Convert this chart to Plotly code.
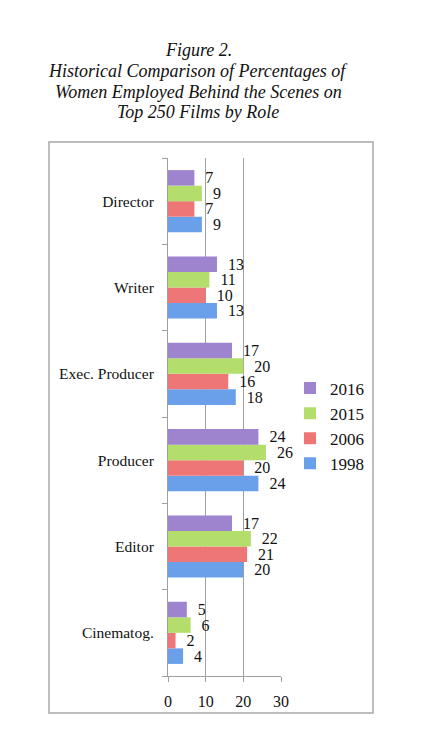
import plotly.graph_objects as go

roles = ["Director", "Writer", "Exec. Producer", "Producer", "Editor", "Cinematog."]
years = ["1998", "2006", "2015", "2016"]
pct_1998 = [9, 13, 18, 24, 20, 4]
pct_2006 = [7, 10, 16, 20, 21, 2]
pct_2015 = [9, 11, 20, 26, 22, 6]
pct_2016 = [7, 13, 17, 24, 17, 5]
x_ticks = [0, 10, 20, 30]

title_lines = [
    "Figure 2.",
    "Historical Comparison of Percentages of",
    "Women Employed Behind the Scenes on",
    "Top 250 Films by Role",
]

colors = {"1998": "#6aa0ea", "2006": "#ef7676", "2015": "#b4de6c", "2016": "#9e84cf"}
series = {"1998": pct_1998, "2006": pct_2006, "2015": pct_2015, "2016": pct_2016}

SERIF = "Liberation Serif, Times New Roman, serif"

# the page body has an 8px margin, so page pixel p sits at figure pixel p - 8
OFF = 8
W, H = 421 - OFF, 755 - OFF
L, R, T, B = 168 - OFF, 281 - OFF, 158 - OFF, 676 - OFF


def px_x(p):
    return (p - OFF - L) / (R - L)


def px_y(p):
    return (B - (p - OFF)) / (B - T)


fig = go.Figure()
for year in years:
    fig.add_bar(
        y=roles,
        x=series[year],
        orientation="h",
        name=year,
        marker=dict(color=colors[year], line=dict(width=0)),
        text=series[year],
        texttemplate="  %{x}",
        textposition="outside",
        constraintext="none",
        cliponaxis=False,
        textfont=dict(family=SERIF, size=16, color="#111"),
    )

# outer frame of the chart
fig.add_shape(
    type="rect", xref="paper", yref="paper",
    x0=px_x(49), x1=px_x(373), y0=px_y(713), y1=px_y(142),
    line=dict(color="#a8a8a8", width=1.5), fillcolor="rgba(0,0,0,0)", layer="below",
)

title_y = [50, 71, 92, 112]
for line, y in zip(title_lines, title_y):
    fig.add_annotation(
        text=line, xref="paper", yref="paper", x=px_x(198), y=px_y(y),
        xanchor="center", yanchor="middle", showarrow=False,
        font=dict(family=SERIF, size=18, color="#111", style="italic"),
    )

fig.update_layout(
    width=W, height=H,
    margin=dict(l=L, r=W - R, t=T, b=H - B),
    paper_bgcolor="white", plot_bgcolor="white",
    barmode="group", bargap=0.28, bargroupgap=0,
    showlegend=True,
    legend=dict(
        x=px_x(290), y=px_y(426), xanchor="left", yanchor="middle",
        traceorder="reversed", font=dict(family=SERIF, size=17, color="#111"),
        itemwidth=30, tracegroupgap=0, bgcolor="rgba(0,0,0,0)",
    ),
    xaxis=dict(
        range=[0, 30], tickvals=x_ticks, showgrid=True, gridcolor="#a0a0a0", gridwidth=1.2,
        zeroline=False, showline=True, linecolor="#a0a0a0", linewidth=1.2,
        ticks="outside", ticklen=5, tickcolor="#a0a0a0", ticklabelstandoff=6,
        tickfont=dict(family=SERIF, size=16, color="#111"), fixedrange=True,
    ),
    yaxis=dict(
        categoryorder="array", categoryarray=roles[::-1],
        showline=True, linecolor="#a0a0a0", linewidth=1.2, showgrid=False,
        ticks="outside", tickson="boundaries", ticklen=5, tickcolor="#a0a0a0",
        ticklabelstandoff=10, tickfont=dict(family=SERIF, size=15.5, color="#111"),
        fixedrange=True,
    ),
)

fig.write_html("out.html")
